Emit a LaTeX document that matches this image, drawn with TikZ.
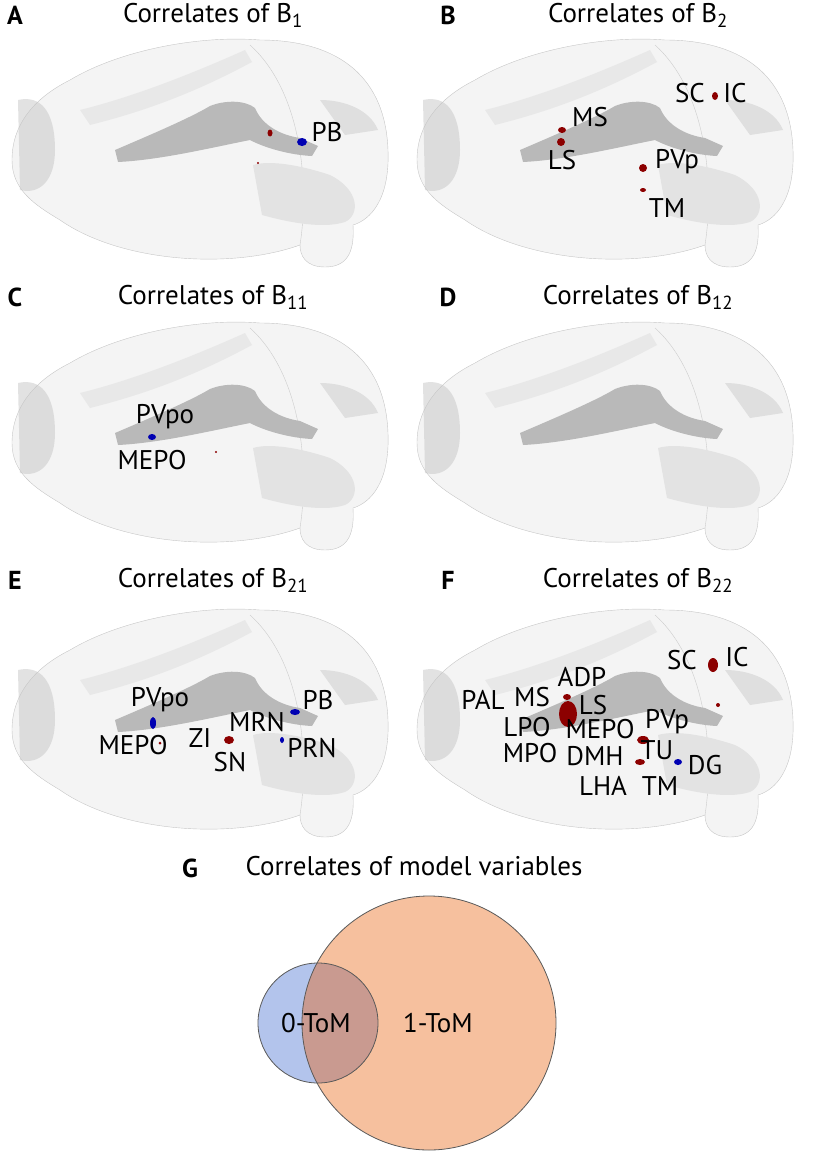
\documentclass[tikz,border=0pt]{standalone}
\usepackage{fontspec}
\setmainfont{PT Sans}
\begin{document}
\begin{tikzpicture}[x=1pt,y=-1pt,
  lbl/.style={font=\fontsize{27}{29}\selectfont,inner sep=0pt},
  ttl/.style={font=\fontsize{27}{29}\selectfont,inner sep=0pt},
  let/.style={font=\bfseries\fontsize{26}{28}\selectfont,inner sep=0pt},
  redb/.style={fill=red!55!black},
  blueb/.style={fill=blue!70!black},
  brain/.pic={
    \fill[gray!9,draw=gray!45] (12,160) .. controls (12,120) and (40,95) .. (70,80)
      .. controls (120,50) and (200,35) .. (260,40) .. controls (330,40) and (385,70) .. (388,150)
      .. controls (390,200) and (370,220) .. (353,225) .. controls (355,255) and (345,267) .. (325,267)
      .. controls (305,267) and (300,255) .. (300,245) .. controls (230,270) and (120,262) .. (60,220)
      .. controls (35,205) and (12,190) .. (12,160) -- cycle;
    \draw[gray!40] (250,45) .. controls (300,90) and (310,180) .. (300,245);
    \fill[gray!22] (253,165) .. controls (270,160) and (300,165) .. (330,175) .. controls (360,190) and (360,215) .. (345,222)
       .. controls (320,230) and (280,220) .. (262,215) -- cycle;
    \fill[gray!45,opacity=.5] (18,100) .. controls (40,95) and (55,110) .. (55,150) .. controls (55,180) and (40,195) .. (20,190) -- cycle;
    \fill[gray!18] (80,110) .. controls (140,95) and (200,70) .. (245,50) -- (252,62) .. controls (200,90) and (150,110) .. (90,125) -- cycle;
    \fill[gray!55] (115,150) .. controls (150,135) and (190,118) .. (210,106) .. controls (225,100) and (245,100) .. (255,108)
      .. controls (262,125) and (280,135) .. (300,138) -- (318,146) -- (312,156) .. controls (290,155) and (265,148) .. (250,140)
      .. controls (210,148) and (160,160) .. (118,162) -- cycle;
    \fill[gray!25] (320,100) .. controls (345,100) and (370,110) .. (378,130) -- (345,135) -- cycle;
  }]
\useasboundingbox (0,0) rectangle (815,1156);
\pic at (0,0) {brain}; \pic at (405,0) {brain};
\pic at (0,283) {brain}; \pic at (405,283) {brain};
\pic at (0,570) {brain}; \pic at (405,570) {brain};
% Titles
\node[let] (la) at (15,15) {A}; \node[ttl] (ta) at (213,15) {Correlates of B\textsubscript{1}};
\node[let] (lb) at (448,15) {B}; \node[ttl] (tb) at (638,15) {Correlates of B\textsubscript{2}};
\node[let] (lc) at (15,297) {C}; \node[ttl] (tc) at (213,297) {Correlates of B\textsubscript{11}};
\node[let] (ld) at (448,297) {D}; \node[ttl] (td) at (638,297) {Correlates of B\textsubscript{12}};
\node[let] (le) at (15,580) {E}; \node[ttl] (te) at (213,580) {Correlates of B\textsubscript{21}};
\node[let] (lf) at (448,580) {F}; \node[ttl] (tf) at (638,580) {Correlates of B\textsubscript{22}};
% A
\fill[blueb] (302,142) ellipse (5 and 4); \fill[redb] (270,133) ellipse (2.5 and 3.5); \fill[redb] (258,163) circle (1.2);
\node[lbl] (apb) at (327,132) {PB};
% B
\fill[redb] (715,96) ellipse (3 and 4); \fill[redb] (562,130) ellipse (4 and 3); \fill[redb] (561,142) ellipse (4 and 4);
\fill[redb] (643,168) ellipse (4 and 4); \fill[redb] (643,190) ellipse (3 and 2);
\node[lbl] (bsc) at (690,93) {SC}; \node[lbl] (bic) at (735,93) {IC};
\node[lbl] (bms) at (590,117) {MS}; \node[lbl] (bls) at (562,160) {LS};
\node[lbl] (bpv) at (677,162) {PVp}; \node[lbl] (btm) at (667,208) {TM};
% C
\fill[blueb] (152,437) ellipse (4 and 3); \fill[redb] (216,452) circle (1.2);
\node[lbl] (cpv) at (165,417) {PVpo}; \node[lbl] (cme) at (152,460) {MEPO};
% E
\fill[blueb] (153,723) ellipse (3 and 6); \fill[blueb] (295,712) ellipse (5 and 3); \fill[blueb] (282,740) ellipse (2 and 3);
\fill[redb] (229,740) ellipse (5 and 4); \fill[redb] (160,743) circle (1.5);
\node[lbl] (epv) at (160,700) {PVpo}; \node[lbl] (eme) at (133,745) {MEPO};
\node[lbl] (ezi) at (200,738) {ZI}; \node[lbl] (esn) at (230,762) {SN};
\node[lbl] (emr) at (257,722) {MRN}; \node[lbl] (epb) at (318,700) {PB};
\node[lbl] (epr) at (312,748) {PRN};
% F
\fill[redb] (568,714) ellipse (9 and 13); \fill[redb] (567,697) ellipse (4 and 3);
\fill[redb] (713,665) ellipse (5 and 7); \fill[redb] (643,740) ellipse (6 and 4); \fill[redb] (640,762) ellipse (5 and 3);
\fill[redb] (718,705) circle (2); \fill[blueb] (678,762) ellipse (4 and 3);
\node[lbl] (fadp) at (582,677) {ADP}; \node[lbl] (fpal) at (483,700) {PAL};
\node[lbl] (fms) at (532,697) {MS}; \node[lbl] (fls) at (593,705) {LS};
\node[lbl] (flpo) at (527,727) {LPO}; \node[lbl] (fmepo) at (600,729) {MEPO};
\node[lbl] (fpvp) at (667,722) {PVp}; \node[lbl] (fmpo) at (530,753) {MPO};
\node[lbl] (fdmh) at (595,756) {DMH}; \node[lbl] (ftu) at (657,750) {TU};
\node[lbl] (fdg) at (705,765) {DG}; \node[lbl] (flha) at (603,786) {LHA};
\node[lbl] (ftm) at (660,786) {TM}; \node[lbl] (fsc) at (682,660) {SC};
\node[lbl] (fic) at (737,657) {IC};
% G
\node[let] (lg) at (190,868) {G}; \node[ttl] (tg) at (414,866) {Correlates of model variables};
\definecolor{vblue}{HTML}{B3C4EC}\definecolor{vor}{HTML}{F6C09E}\definecolor{vmix}{HTML}{C99A90}
\fill[vblue] (318,1023) circle (60);
\fill[vor] (429,1023) circle (127);
\begin{scope}\clip (318,1023) circle (60); \fill[vmix] (429,1023) circle (127);\end{scope}
\draw[gray!70!black,line width=0.8pt] (318,1023) circle (60);
\draw[gray!70!black,line width=0.8pt] (429,1023) circle (127);
\node[lbl] (z) at (316,1023) {0-ToM}; \node[lbl] (o) at (438,1023) {1-ToM};
\end{tikzpicture}
\end{document}
